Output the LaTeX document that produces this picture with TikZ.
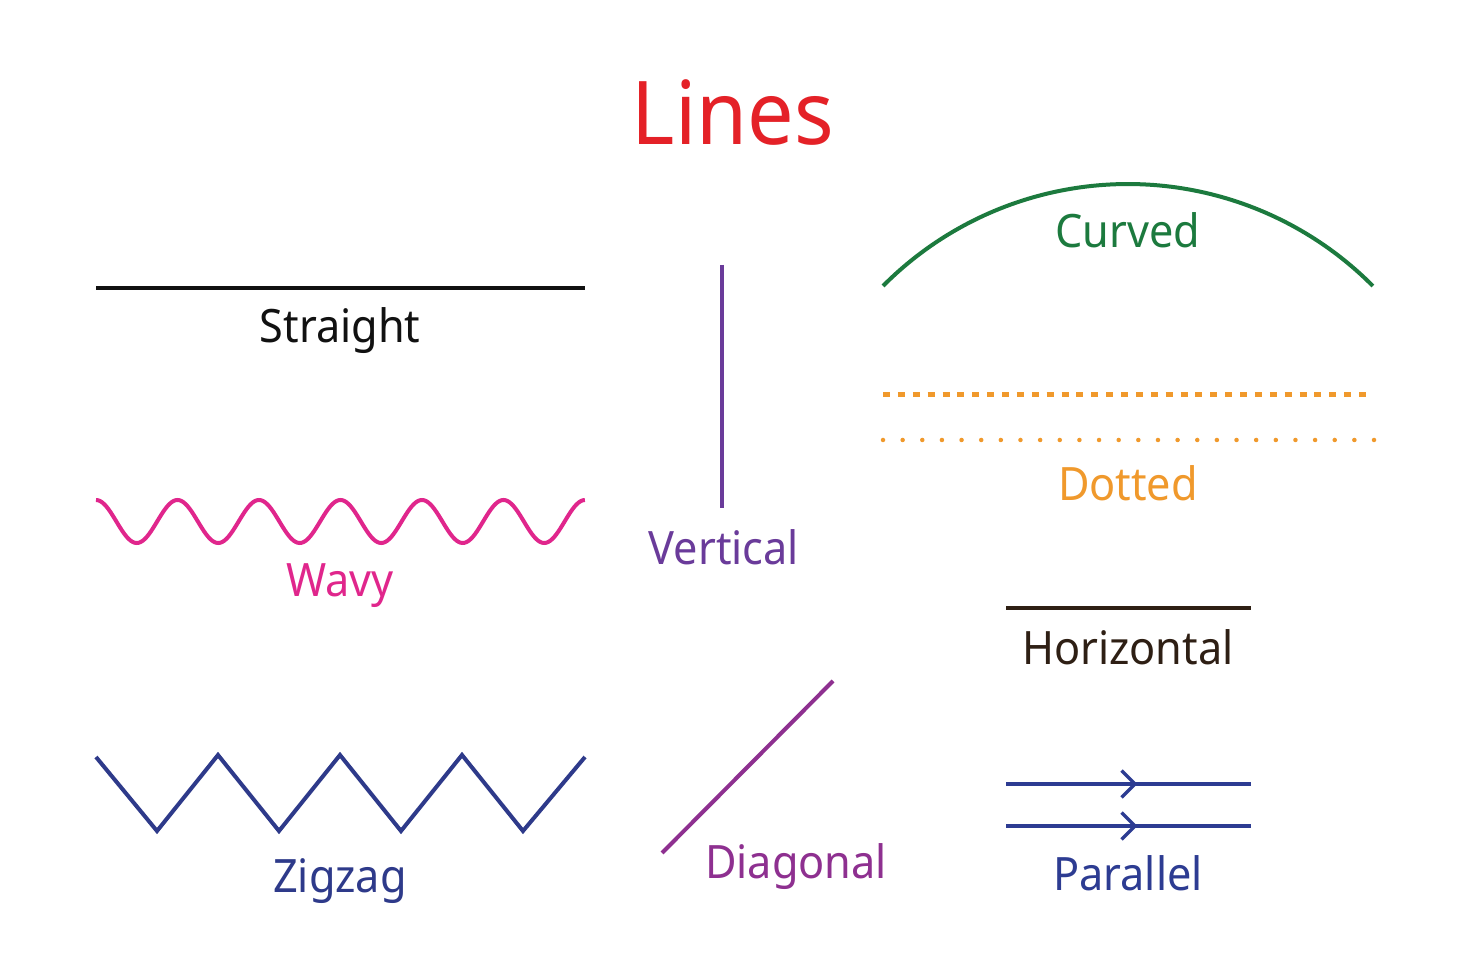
\documentclass[tikz,border=0pt]{standalone}
\usepackage{fontspec}
\setmainfont{Noto Sans}[FakeStretch=0.94]
\definecolor{cTitle}{HTML}{E42127}
\definecolor{cStraight}{HTML}{111111}
\definecolor{cVert}{HTML}{6A3B9A}
\definecolor{cCurve}{HTML}{1C7A3E}
\definecolor{cDot}{HTML}{F0992C}
\definecolor{cWavy}{HTML}{E0268C}
\definecolor{cHoriz}{HTML}{2E1F14}
\definecolor{cZig}{HTML}{2E3A8A}
\definecolor{cDiag}{HTML}{8E3090}
\definecolor{cPar}{HTML}{2D3C92}
\tikzset{
  x=1pt, y=1pt,
  ln/.style={line width=4pt},
  lbl/.style={anchor=base, inner sep=0pt, font=\fontsize{46}{50}\selectfont},
}
\begin{document}
\begin{tikzpicture}
\useasboundingbox (0,0) rectangle (1470,980);
\fill[white] (0,0) rectangle (1470,980);
% title
\node[anchor=base, inner sep=0pt, text=cTitle, font=\fontsize{88}{96}\selectfont] (title) at (733,835) {Lines};
% straight
\coordinate (s1) at (96,692); \coordinate (s2) at (585,692);
\draw[ln, cStraight] (s1) -- (s2);
\node[lbl, text=cStraight] (straight) at (340,637) {Straight};
% vertical
\coordinate (v1) at (722,715); \coordinate (v2) at (722,472);
\draw[ln, cVert] (v1) -- (v2);
\node[lbl, text=cVert] (vertical) at (724,415) {Vertical};
% curved
\coordinate (c1) at (883,694);
\draw[ln, cCurve] (c1) arc[start angle=135.2, end angle=44.8, radius=345.2];
\node[lbl, text=cCurve] (curved) at (1128,732) {Curved};
% dashed / dotted
\coordinate (d1) at (883,585); \coordinate (d2) at (1366,585);
\draw[line width=5pt, cDot, dash pattern=on 7pt off 7.875pt] (d1) -- (d2);
\coordinate (e1) at (883,540); \coordinate (e2) at (1375,540);
\draw[line width=4.5pt, cDot, line cap=round, dash pattern=on 0pt off 19.64pt] (e1) -- (e2);
\node[lbl, text=cDot] (dotted) at (1128,479) {Dotted};
% wavy
\draw[ln, cWavy, smooth, samples=241, domain=0:6] plot ({96+81.5*\x}, {458.5+21.5*cos(360*\x)});
\node[lbl, text=cWavy] (wavy) at (340,383) {Wavy};
% horizontal
\coordinate (h1) at (1006,372); \coordinate (h2) at (1251,372);
\draw[ln, cHoriz] (h1) -- (h2);
\node[lbl, text=cHoriz] (horizontal) at (1128,315) {Horizontal};
% zigzag
\draw[ln, cZig, line join=miter] (96,223) -- (157,149) -- (218,225) -- (279,149) -- (340,225) -- (401,149) -- (462,225) -- (523,149) -- (585,223);
\node[lbl, text=cZig] (zigzag) at (340,87) {Zigzag};
% diagonal
\coordinate (g1) at (662,127); \coordinate (g2) at (833,299);
\draw[ln, cDiag] (g1) -- (g2);
\node[lbl, text=cDiag] (diagonal) at (796,101) {Diagonal};
% parallel
\coordinate (p1) at (1006,196); \coordinate (p2) at (1251,196);
\coordinate (q1) at (1006,154); \coordinate (q2) at (1251,154);
\draw[line width=3.5pt, cPar] (p1) -- (p2);
\draw[line width=3.5pt, cPar] (q1) -- (q2);
\draw[line width=3.5pt, cPar] (1121.5,209.5) -- (1135,196) -- (1121.5,182.5);
\draw[line width=3.5pt, cPar] (1121.5,167.5) -- (1135,154) -- (1121.5,140.5);
\node[lbl, text=cPar] (parallel) at (1128,89) {Parallel};
\end{tikzpicture}
\end{document}
